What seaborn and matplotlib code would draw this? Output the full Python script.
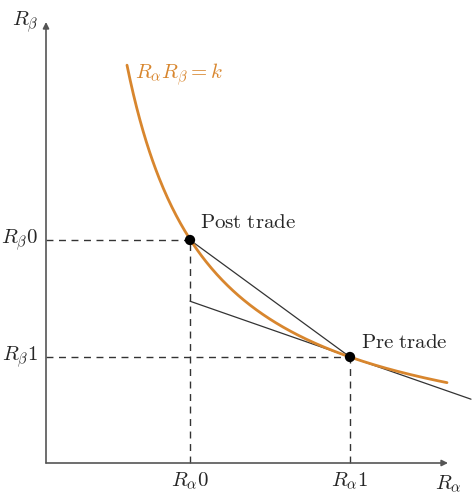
import numpy as np
import pandas as pd
import matplotlib
matplotlib.use("Agg")
import matplotlib.pyplot as plt
import seaborn as sns

# reserves (arbitrary units)
ra0, rb0 = 144, 223      # post trade
ra1, rb1 = 304, 106      # pre trade
k = ra1 * rb1
curve_x = np.linspace(81, 401, 300)
curve = pd.DataFrame({"x": curve_x, "y": k / curve_x})
points = pd.DataFrame({"x": [ra0, ra1], "y": [rb0, rb1], "name": ["Post trade", "Pre trade"]})
tangent_x = [ra0, 425]

sns.set_style("white")
plt.rcParams["mathtext.fontset"] = "cm"

fig = plt.figure(figsize=(4.74, 5.0), dpi=100)
ax = fig.add_axes([0, 0, 1, 1])
ax.set_xlim(-46, 428)
ax.set_ylim(-37, 463)
ax.axis("off")

orange = "#D8862E"
grey = "#555555"

# axes with arrows
ax.annotate("", xy=(402, 0), xytext=(0, 0),
            arrowprops=dict(arrowstyle="-|>", color=grey, lw=1.2, mutation_scale=9, shrinkA=0, shrinkB=0))
ax.annotate("", xy=(0, 441), xytext=(0, 0),
            arrowprops=dict(arrowstyle="-|>", color=grey, lw=1.2, mutation_scale=9, shrinkA=0, shrinkB=0))

# dashed guides
dash = dict(color="#333333", lw=1.0, ls=(0, (5, 4)))
ax.plot([0, ra0], [rb0, rb0], **dash)
ax.plot([ra0, ra0], [0, rb0], **dash)
ax.plot([0, ra1], [rb1, rb1], **dash)
ax.plot([ra1, ra1], [0, rb1], **dash)

# secant and tangent
slope = -k / ra1 ** 2
ax.plot([ra0, ra1], [rb0, rb1], color="#333333", lw=0.9)
ax.plot(tangent_x, [rb1 + slope * (t - ra1) for t in tangent_x], color="#333333", lw=0.9)

sns.lineplot(data=curve, x="x", y="y", color=orange, lw=2, ax=ax, sort=False)
sns.scatterplot(data=points, x="x", y="y", color="black", s=55, ax=ax, zorder=5, edgecolor="none")

fs = 15
ax.text(ra0 + 10, rb0 + 8, r"$\mathrm{Post\ trade}$", fontsize=fs, va="bottom", ha="left")
ax.text(ra1 + 11, rb1 + 5, r"$\mathrm{Pre\ trade}$", fontsize=fs, va="bottom", ha="left")
ax.text(89, 388, r"$R_\alpha R_\beta = k$", fontsize=fs, color=orange, va="center", ha="left")

ax.text(-8, rb0, r"$R_\beta 0$", fontsize=fs, ha="right", va="center")
ax.text(-8, rb1, r"$R_\beta 1$", fontsize=fs, ha="right", va="center")
ax.text(-8, 441, r"$R_\beta$", fontsize=fs, ha="right", va="center")
ax.text(ra0, -7, r"$R_\alpha 0$", fontsize=fs, ha="center", va="top")
ax.text(ra1, -7, r"$R_\alpha 1$", fontsize=fs, ha="center", va="top")
ax.text(402, -10, r"$R_\alpha$", fontsize=fs, ha="center", va="top")

fig.savefig("out.png", dpi=100)
